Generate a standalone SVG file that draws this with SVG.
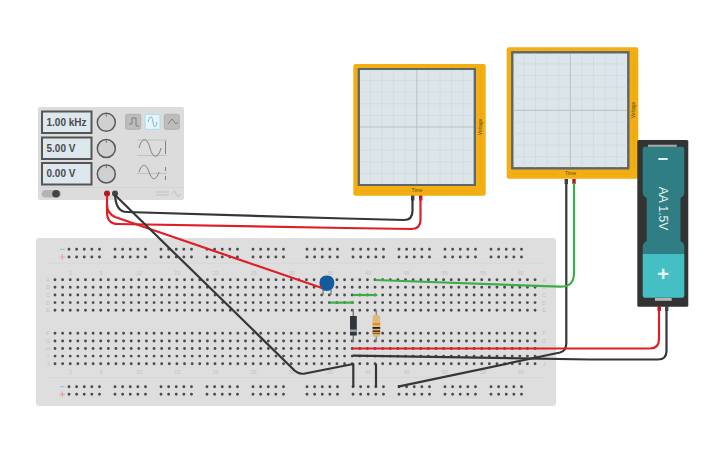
<svg xmlns="http://www.w3.org/2000/svg" width="725" height="453" viewBox="0 0 725 453">
<style>
text{font-family:"Liberation Sans",Arial,sans-serif}
.holes{fill:none;stroke:#4c4c4c;stroke-width:2.9;stroke-linecap:round;stroke-dasharray:0 7.62}
.bl{font-size:5.5px;fill:#c2c2c2;text-anchor:middle}
.sep{stroke:#d4d4d4;stroke-width:.8}
.disp{fill:#dce8ee;stroke:#555;stroke-width:2}
.dt{font-size:10px;font-weight:bold;fill:#4a4a4a}
.knob{fill:#d0d0d0;stroke:#5a5a5a;stroke-width:1.5}
.btn{fill:#bdbdbd;stroke:#aaa;stroke-width:.8}
.wave{fill:none;stroke:#777;stroke-width:.9}
.faint{fill:none;stroke:#b4b4b4;stroke-width:.7}
.case{fill:#f2ae12}
.screen{fill:#dce6ea;stroke:#5e666a;stroke-width:2}
.g1{stroke:#d0dadd;stroke-width:.8}
.g2{stroke:#b8c2c4;stroke-width:1}
.tt{font-size:5px;fill:#5a4a10;text-anchor:middle}
.trail{stroke:#e6a70f;stroke-width:.8}
.w{fill:none;stroke-width:2.2;stroke-linejoin:round}
.wr{stroke:#dd2027}.wk{stroke:#343638}.wg{stroke:#3cae49}
.tr{fill:#b3161c}.tk{fill:#3f4346}
</style>

<g id="breadboard">
<rect x="36" y="238" width="520" height="168" rx="3" fill="#dedede"/>
<path class="sep" d="M48 263.3H544M48 377.7H544"/>
<path class="holes" d="M69 249.3H101M115 249.3H147M161 249.3H193M207 249.3H239M253 249.3H285M307 249.3H339M353 249.3H385M399 249.3H431M445 249.3H477M491 249.3H523
M69 257H101M115 257H147M161 257H193M207 257H239M253 257H285M307 257H339M353 257H385M399 257H431M445 257H477M491 257H523
M69 386.7H101M115 386.7H147M161 386.7H193M207 386.7H239M253 386.7H285M307 386.7H339M353 386.7H385M399 386.7H431M445 386.7H477M491 386.7H523
M69 394.3H101M115 394.3H147M161 394.3H193M207 394.3H239M253 394.3H285M307 394.3H339M353 394.3H385M399 394.3H431M445 394.3H477M491 394.3H523
M55 279.7H540M55 287.3H540M55 295H540M55 302.6H540M55 310.2H540
M55 333.3H540M55 341H540M55 348.5H540M55 356.1H540M55 363.7H540"/>
<path d="M60 249.3H65" stroke="#9cc4e4" stroke-width="1.2"/>
<path d="M59.500 257H65M62.300 254.300V259.700" stroke="#f0a0a0" stroke-width="1.200"/>
<path d="M60 386.7H65" stroke="#9cc4e4" stroke-width="1.2"/>
<path d="M59.500 394.300H65M62.300 391.600V397" stroke="#f0a0a0" stroke-width="1.200"/>
<g class="bl">
<text x="70.6" y="274.5">1</text><text x="101" y="274.5">5</text><text x="139.3" y="274.5">10</text><text x="177.4" y="274.5">15</text><text x="215.5" y="274.5">20</text><text x="253.6" y="274.5">25</text><text x="291.7" y="274.5">30</text><text x="330" y="274.5">35</text><text x="368" y="274.5">40</text><text x="406.5" y="274.5">45</text><text x="444.7" y="274.5">50</text><text x="483" y="274.5">55</text><text x="521" y="274.5">60</text>
<text x="70.6" y="374">1</text><text x="101" y="374">5</text><text x="139.3" y="374">10</text><text x="177.4" y="374">15</text><text x="215.5" y="374">20</text><text x="253.6" y="374">25</text><text x="291.7" y="374">30</text><text x="330" y="374">35</text><text x="368" y="374">40</text><text x="406.5" y="374">45</text><text x="444.7" y="374">50</text><text x="483" y="374">55</text><text x="521" y="374">60</text>
<text x="48" y="281.7">A</text><text x="48" y="289.3">B</text><text x="48" y="297">C</text><text x="48" y="304.6">D</text><text x="48" y="312.2">E</text><text x="48" y="335.3">F</text><text x="48" y="343">G</text><text x="48" y="350.5">H</text><text x="48" y="358.1">I</text><text x="48" y="365.7">J</text>
<text x="544" y="281.7">A</text><text x="544" y="289.3">B</text><text x="544" y="297">C</text><text x="544" y="304.6">D</text><text x="544" y="312.2">E</text><text x="544" y="335.3">F</text><text x="544" y="343">G</text><text x="544" y="350.5">H</text><text x="544" y="358.1">I</text><text x="544" y="365.7">J</text>
</g>
</g>

<g id="function-generator">
<rect x="38" y="107" width="146" height="93" rx="2" fill="#dcdcdc"/>
<path d="M38 187.5H184" stroke="#d0d0d0" stroke-width=".8"/>
<rect class="disp" x="42" y="111.5" width="49.5" height="21.5"/>
<rect class="disp" x="42" y="137.5" width="49.5" height="21.5"/>
<rect class="disp" x="42" y="163" width="49.5" height="21.5"/>
<text class="dt" x="46.5" y="125.5">1.00 kHz</text>
<text class="dt" x="46.5" y="151.5">5.00 V</text>
<text class="dt" x="46.5" y="177">0.00 V</text>
<circle class="knob" cx="106.3" cy="122.3" r="9"/>
<circle class="knob" cx="106.3" cy="148.5" r="9"/>
<circle class="knob" cx="106.3" cy="174" r="9"/>
<path d="M106.3 114.5v2M106.3 140.7v2M106.3 166.2v2" stroke="#555" stroke-width=".8"/>
<rect class="btn" x="125.7" y="114.3" width="15" height="15" rx="1.5"/>
<rect x="145" y="114.3" width="15" height="15" rx="1.5" fill="#e8f4fa" stroke="#a8dcf2"/>
<rect class="btn" x="164.3" y="114.3" width="15" height="15" rx="1.5"/>
<path class="wave" d="M129 124h3v-6h4v8h3"/>
<path d="M148 122c2-7 4-7 5 0s3 6 4 0" fill="none" stroke="#5ab4e0" stroke-width=".9"/>
<path class="wave" d="M168 124l4-5 4 5 2-2"/>
<path class="faint" d="M137 140H167M137 155.500H167"/>
<path class="wave" d="M165.500 141v13"/>
<path class="wave" d="M139 148c3-11 8-11 11 0s8 11 11 0"/>
<path class="faint" d="M137 173.500H167"/>
<path class="wave" d="M139 172c3-9 7-9 10 0s7 9 10 0"/>
<path class="wave" d="M165.500 167v4M165.500 176v4"/>
<rect x="41.7" y="190" width="19.300" height="7.600" rx="3.800" fill="#b4b4b4"/>
<circle cx="56" cy="193.800" r="3.800" fill="#444"/>
<path class="faint" d="M156 192h13M156 195h13M172 194c2-4 3-4 4 0s3 3 4 0"/>
<circle class="tr" cx="107" cy="193.500" r="3"/>
<circle class="tk" cx="115" cy="193.500" r="3"/>
</g>

<g id="oscilloscope-1">
<rect class="case" x="353.300" y="64" width="132.400" height="131.700" rx="2"/>
<path class="trail" d="M359 191H412M424 191H475M481 70V120M481 135V184"/>
<rect class="screen" x="358.800" y="69" width="116" height="116"/>
<path class="g1" d="M370.400 69V185M382 69V185M393.600 69V185M405.200 69V185M428.400 69V185M440 69V185M451.600 69V185M463.200 69V185M358.800 80.600H474.800M358.800 92.200H474.800M358.800 103.800H474.800M358.800 115.400H474.800M358.800 138.600H474.800M358.800 150.200H474.800M358.800 161.800H474.800M358.800 173.400H474.800"/>
<path class="g2" d="M416.800 69V185M358.800 127H474.800"/>
<rect class="screen" x="358.800" y="69" width="116" height="116" fill="none" style="fill:none"/>
<text class="tt" x="417" y="191.800">Time</text>
<text class="tt" transform="translate(481.500 127) rotate(-90)">Voltage</text>
<rect class="tk" x="411" y="195.500" width="3.400" height="5"/>
<rect class="tr" x="419" y="195.500" width="3.400" height="5"/>
</g>

<g id="oscilloscope-2">
<rect class="case" x="506.700" y="47.300" width="131.600" height="131.400" rx="2"/>
<path class="trail" d="M512 174H556M583 174H628M634 52V100M634 120V168"/>
<rect class="screen" x="512.300" y="52.300" width="116" height="116"/>
<path class="g1" d="M523.900 52.300V168.300M535.500 52.300V168.300M547.100 52.300V168.300M558.700 52.300V168.300M581.900 52.300V168.300M593.500 52.300V168.300M605.100 52.300V168.300M616.700 52.300V168.300M512.300 63.900H628.300M512.300 75.500H628.300M512.300 87.100H628.300M512.300 98.700H628.300M512.300 121.900H628.300M512.300 133.500H628.300M512.300 145.100H628.300M512.300 156.700H628.300"/>
<path class="g2" d="M570.300 52.300V168.300M512.300 110.300H628.300"/>
<rect class="screen" x="512.300" y="52.300" width="116" height="116" style="fill:none"/>
<text class="tt" x="570.500" y="174.800">Time</text>
<text class="tt" transform="translate(635 110) rotate(-90)">Voltage</text>
<rect class="tk" x="564.600" y="179" width="3.400" height="5"/>
<rect class="tr" x="572.300" y="179" width="3.400" height="5"/>
</g>

<g id="battery">
<rect x="637.300" y="140" width="51" height="166.700" rx="1.500" fill="#333"/>
<rect x="648" y="144.700" width="28.700" height="3" fill="#aaa"/>
<path d="M645 146.700H682Q684.300 146.700 684.300 149V192Q684.300 196 680.500 198V241Q684.300 243 684.300 247V254H642.700V247Q642.700 243 646.700 241V198Q642.700 196 642.700 192V149Q642.700 146.700 645 146.700Z" fill="#2f7e84"/>
<path d="M642.700 254H684.300V295.500Q684.300 297.700 682 297.700H645Q642.700 297.700 642.700 295.500Z" fill="#45bfc4"/>
<rect x="655" y="298" width="16.700" height="2.800" fill="#b5b5b5"/>
<path d="M658.300 159H667.700" stroke="#dff0f0" stroke-width="2"/>
<text transform="translate(659 208.500) rotate(90)" font-size="12" fill="#e4f2f2" text-anchor="middle">AA 1.5V</text>
<text x="663" y="281" font-size="20" font-weight="bold" fill="#e8f7f7" text-anchor="middle">+</text>
<rect class="tr" x="657.500" y="306" width="3.400" height="5"/>
<rect class="tk" x="665" y="306" width="3.400" height="5"/>
</g>

<g id="capacitor">
<path d="M323 290V295M331 290V295" stroke="#8a8a8a" stroke-width="1.500"/>
<path d="M326.700 275.500C332 275.500 334.300 279 334.300 283C334.300 288 331 291 326.700 291C322.500 291 319.500 288 319.500 283C319.500 279 322 275.500 326.700 275.500Z" fill="#125c9e"/>
</g>

<g id="diode">
<path d="M353.300 309V342" stroke="#7c7c7c" stroke-width="1.500"/>
<rect x="350" y="316" width="6.800" height="19.500" fill="#30363b"/>
<rect x="350" y="329.500" width="6.800" height="2.400" fill="#9aa4ab"/>
</g>

<g id="resistor">
<path d="M376.300 310V342" stroke="#8a8a8a" stroke-width="1.500"/>
<path d="M374 315H378.600Q380.200 315 380.200 318.500V333Q380.200 336.700 378.600 336.700H374Q372.600 336.700 372.600 333V318.500Q372.600 315 374 315Z" fill="#dcbb7c"/>
<rect x="372.600" y="323" width="7.600" height="2" fill="#f08c14"/>
<rect x="372.600" y="327" width="7.600" height="1.800" fill="#222"/>
<rect x="372.600" y="330.300" width="7.600" height="1.800" fill="#6a3a14"/>
<rect x="372.600" y="332.800" width="7.600" height="1.300" fill="#8a6a2a"/>
</g>

<g id="connectors">
<path class="w wk" d="M115 195Q116 212 127 212L345 218.500L404 220Q412.500 220 412.500 211V198"/>
<path class="w wr" d="M107 195V212Q107 224 118 224L345 228L411 229Q420.500 229 420.500 220V198"/>
<path class="w wr" d="M107 205Q107 213 115 217L322 288"/>
<path class="w wk" d="M115 195L292 368Q298 375 305 373.500L353.300 364V387"/>
<path class="w wk" d="M376 363.700V387"/>
<path class="w wk" d="M398 386.700L560 352.500Q566.300 351 566.300 343V183"/>
<path class="w wk" d="M352.700 355.700L590 359.500H658Q666.500 359.500 666.500 351V310"/>
<path class="w wr" d="M352 348.500H650Q659 348.500 659 339V310"/>
<path class="w wg" d="M375 280L560 286.700Q574 287 574 273V183"/>
<path class="w wg" d="M352.700 295H377.300"/>
<path class="w wg" d="M329.300 302.600H354"/>
</g>
</svg>
